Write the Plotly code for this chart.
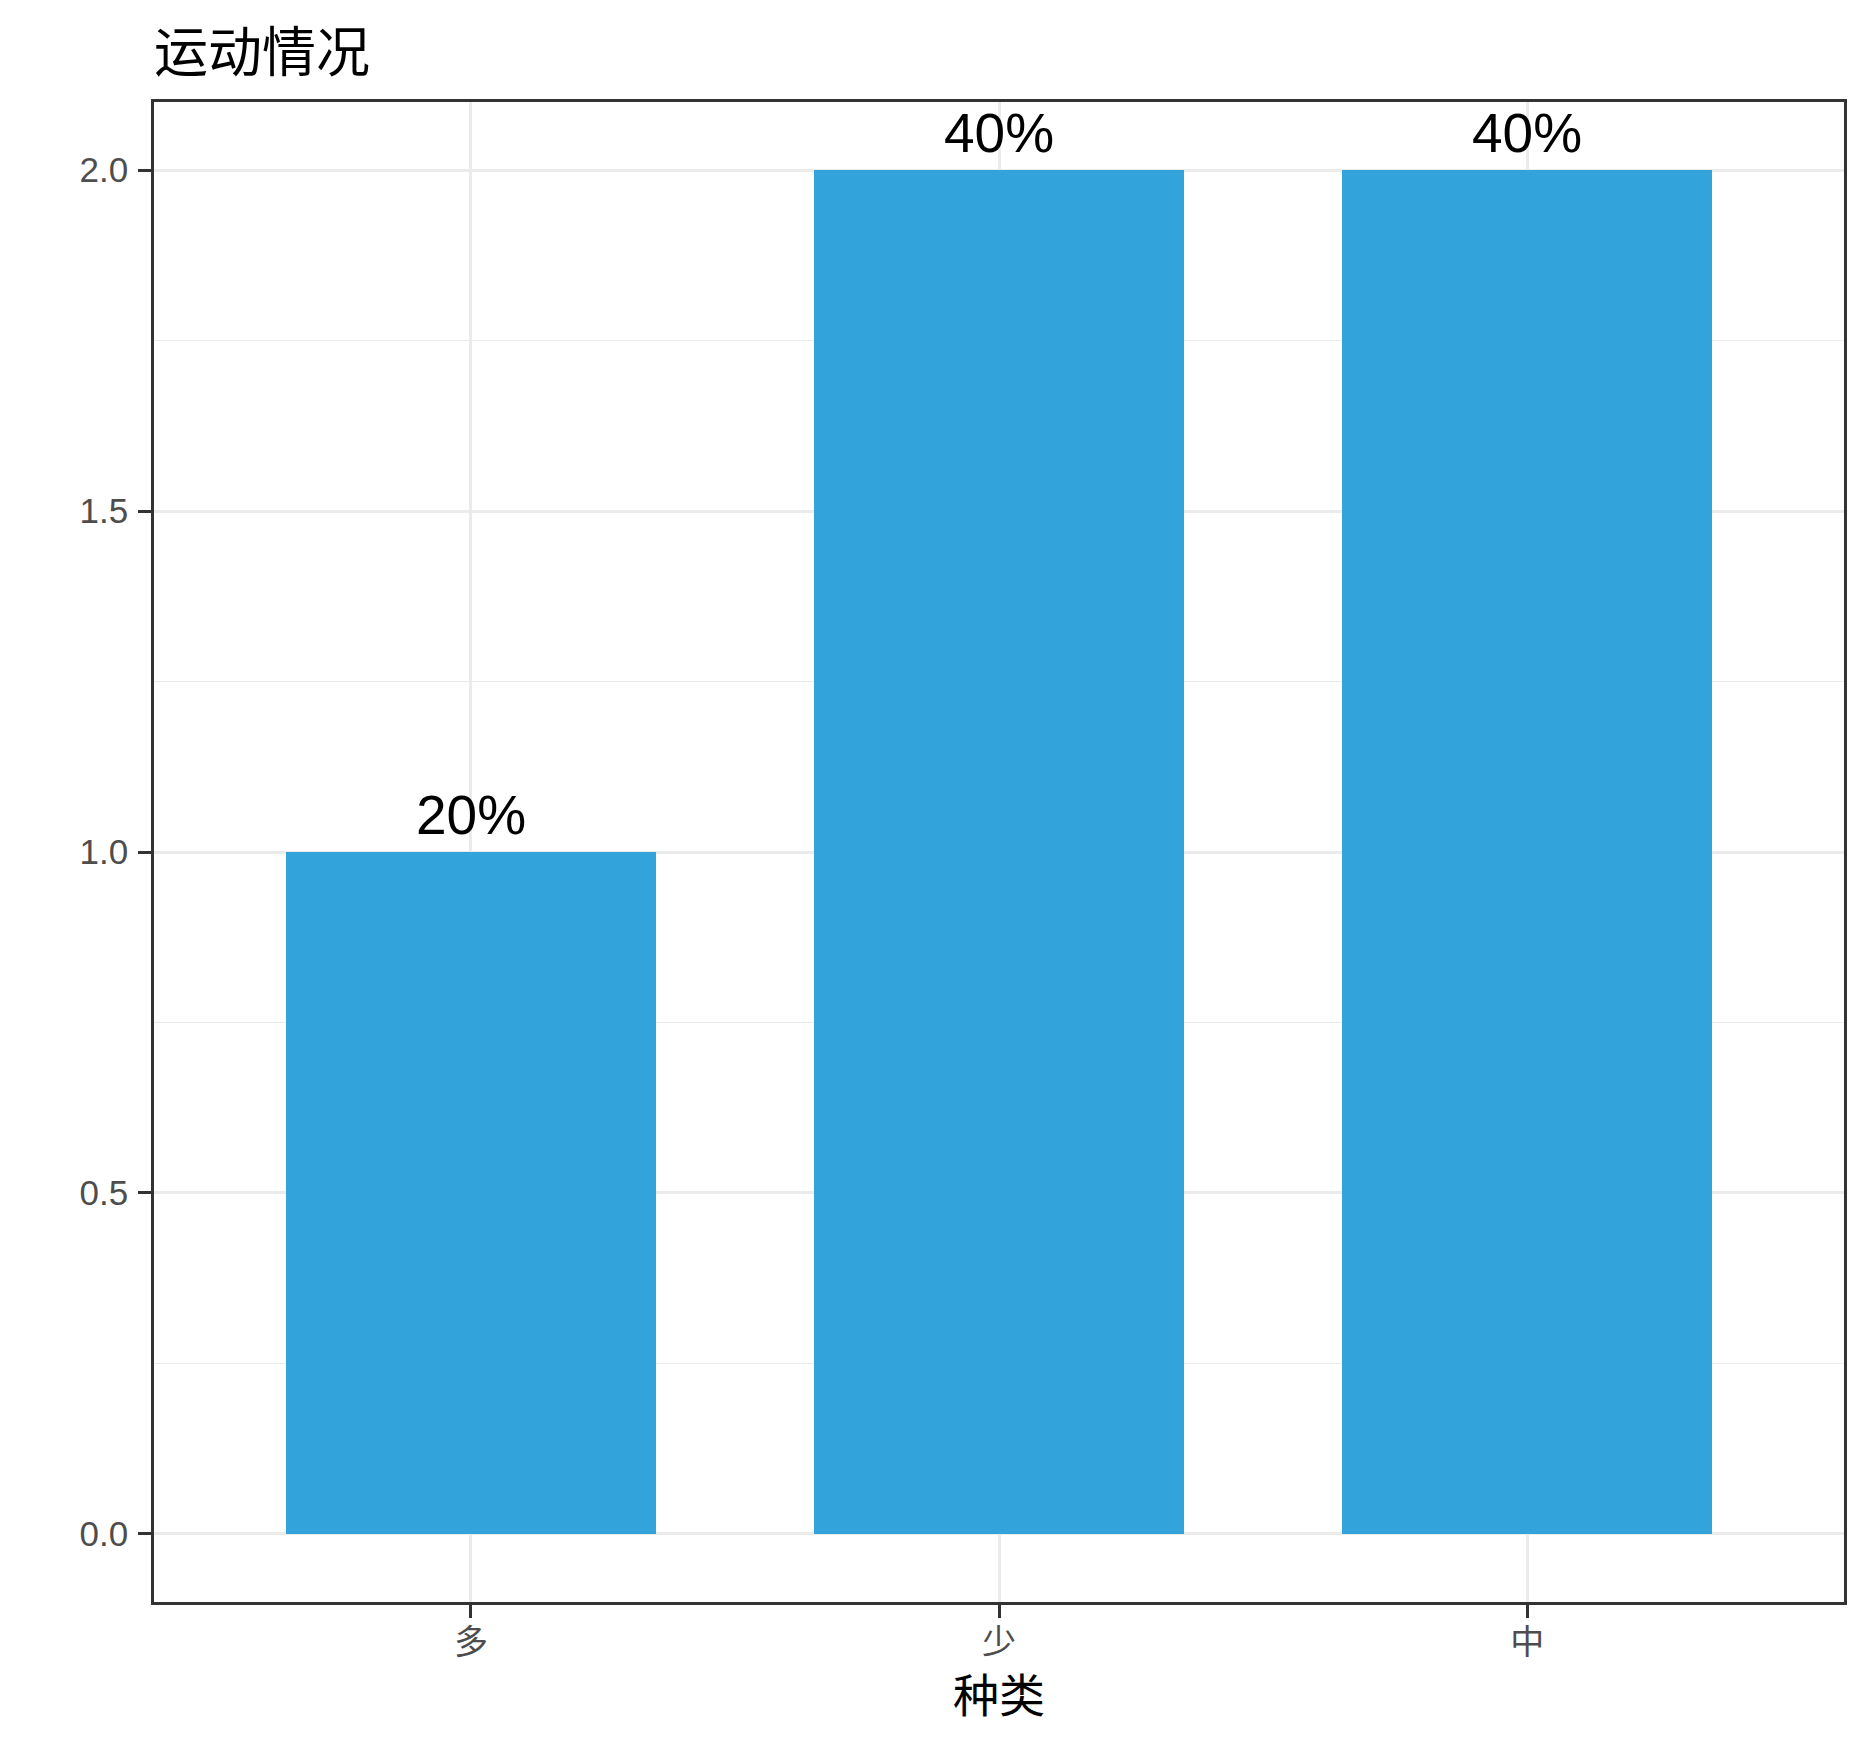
import plotly.graph_objects as go

categories = ["多", "少", "中"]
counts = [1, 2, 2]
labels = ["20%", "40%", "40%"]
y_ticks = [0.0, 0.5, 1.0, 1.5, 2.0]
y_tick_text = ["0.0", "0.5", "1.0", "1.5", "2.0"]
x_title = "种类"
chart_title = "运动情况"

BAR_COLOR = "#33a3dc"
GRID = "#ebebeb"
AXIS = "#333333"
TICKTXT = "#4d4d4d"
CJK = "Noto Sans CJK SC"
LATIN = "Liberation Sans, Arial"

W, H = 1860, 1735

fig = go.Figure()
fig.add_trace(go.Bar(
    x=[1, 2, 3], y=counts, width=0.7,
    marker=dict(color=BAR_COLOR, line=dict(width=0)),
    hoverinfo="skip", showlegend=False,
))

for i, (c, lab) in enumerate(zip(counts, labels)):
    fig.add_annotation(
        x=i + 1, y=c, xref="x", yref="y", text=lab, showarrow=False,
        yanchor="bottom", xanchor="center", yshift=4,
        font=dict(family=LATIN, size=55, color="black"),
    )

# x-axis title placed relative to the plot bottom
fig.add_annotation(
    x=0.5, y=0, xref="paper", yref="paper", text=x_title, showarrow=False,
    xanchor="center", yanchor="middle", yshift=-90,
    font=dict(family=CJK, size=46, color="black"),
)

# chart title placed relative to the plot top-left
fig.add_annotation(
    x=0, y=1, xref="paper", yref="paper", text=chart_title, showarrow=False,
    xanchor="left", yanchor="middle", yshift=54, xshift=-2,
    font=dict(family=CJK, size=54, color="black"),
)

fig.update_layout(
    width=W, height=H,
    margin=dict(l=146, r=24, t=94, b=141, pad=0),
    paper_bgcolor="white", plot_bgcolor="white",
    bargap=0,
)

fig.update_xaxes(
    range=[0.4, 3.6], tickmode="array", tickvals=[1, 2, 3], ticktext=categories,
    showgrid=True, gridcolor=GRID, gridwidth=2.5,
    showline=True, linecolor=AXIS, linewidth=2.5, mirror=True,
    ticks="outside", ticklen=13, tickwidth=3, tickcolor=AXIS,
    ticklabelstandoff=-5,
    tickfont=dict(family=CJK, size=34, color=TICKTXT),
    zeroline=False,
)
fig.update_yaxes(
    range=[-0.1, 2.1], tickmode="array", tickvals=y_ticks, ticktext=y_tick_text,
    showgrid=True, gridcolor=GRID, gridwidth=2.5,
    minor=dict(tickmode="array", tickvals=[0.25, 0.75, 1.25, 1.75], showgrid=True,
               gridcolor=GRID, gridwidth=1.3, ticks=""),
    showline=True, linecolor=AXIS, linewidth=2.5, mirror=True,
    ticks="outside", ticklen=13, tickwidth=3, tickcolor=AXIS,
    ticklabelstandoff=3,
    tickfont=dict(family=LATIN, size=35, color=TICKTXT),
    zeroline=False,
)

fig.write_html("out.html")
